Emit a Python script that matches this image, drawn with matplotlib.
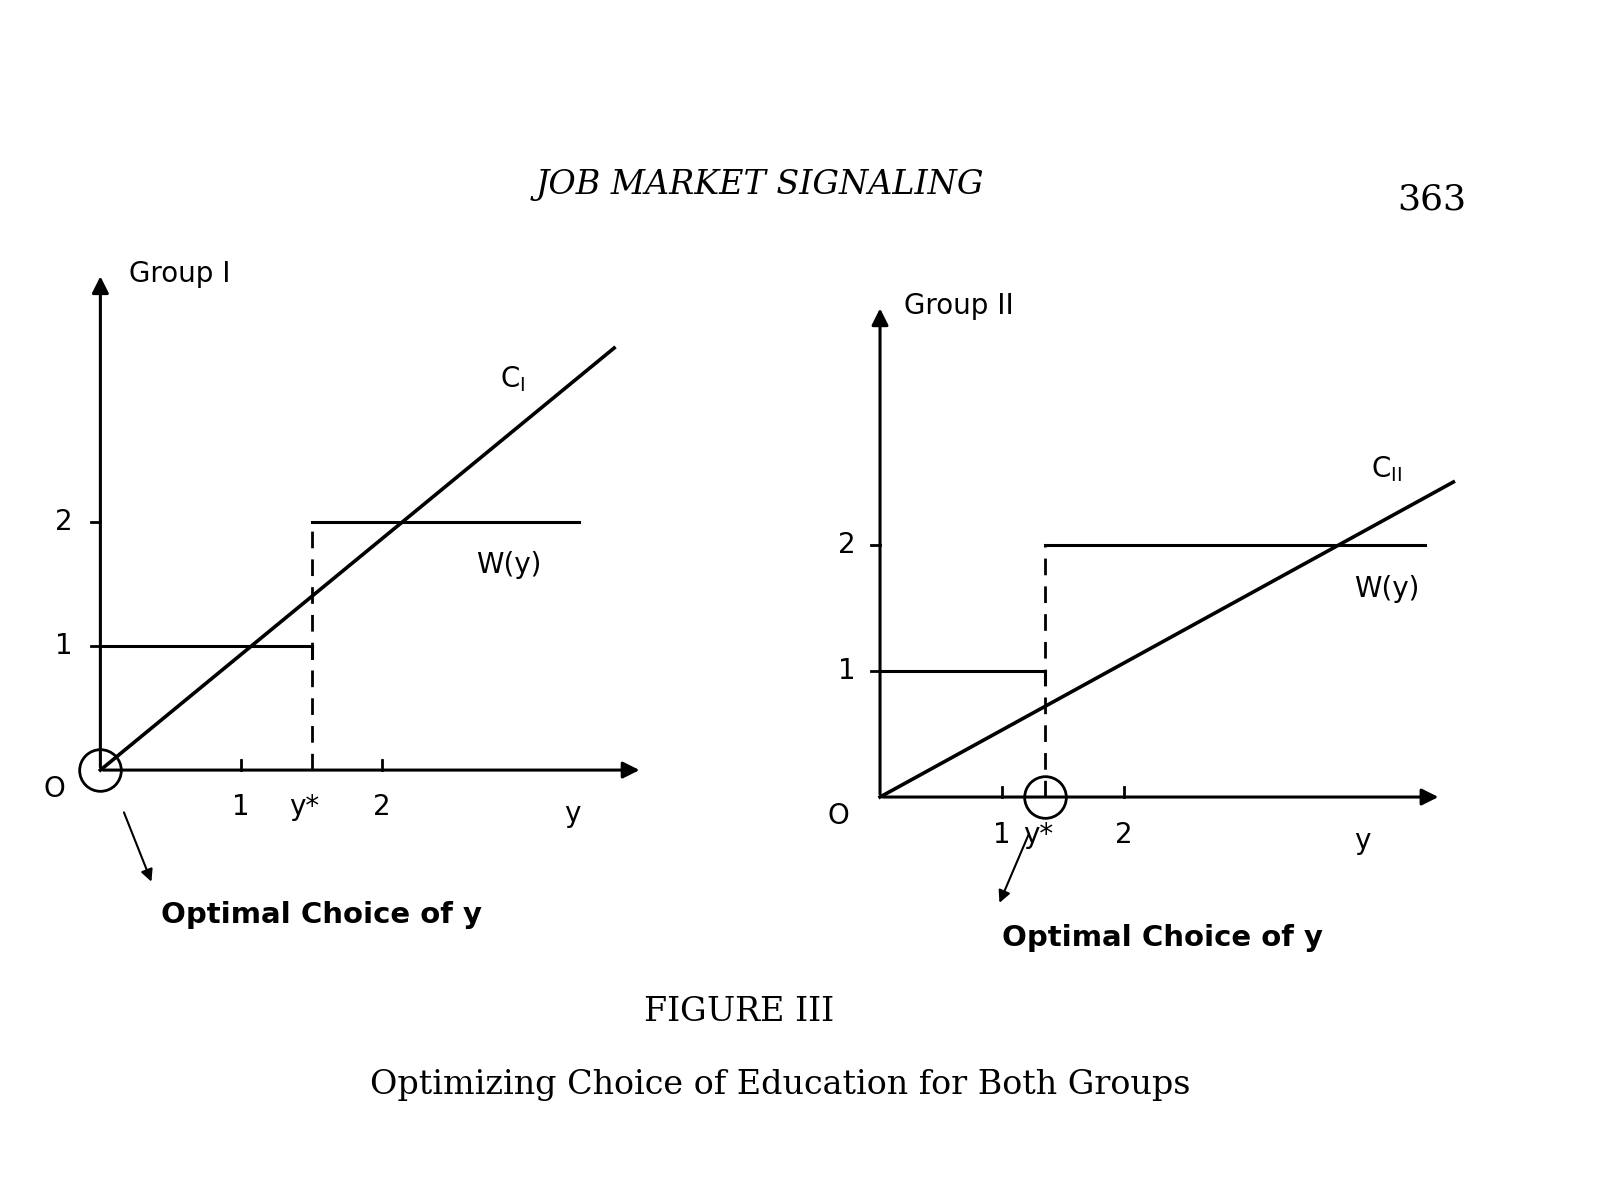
import matplotlib
matplotlib.use('Agg')
import matplotlib.pyplot as plt

plt.rcParams['font.family'] = 'DejaVu Sans'

# Group I
g1_ystar = 1.5
g1_w_low, g1_w_high = 1.0, 2.0
g1_w_end = 3.4
g1_c_end = (3.65, 3.4)
# Group II
g2_ystar = 1.35
g2_w_low, g2_w_high = 1.0, 2.0
g2_w_end = 4.47
g2_c_end = (4.7, 2.5)

tick_vals = [1, 2]

fig = plt.figure(figsize=(16, 12), dpi=100)


def panel(rect, xlim, ylim, ystar, wl, wh, wend, cend, xmax, ymax, title, clabel, clpos, wlpos, arrow, otext_pos, ylpos):
    ax = fig.add_axes(rect)
    ax.set_xlim(*xlim); ax.set_ylim(*ylim); ax.axis('off')
    ax.annotate('', xy=(xmax, 0), xytext=(0, 0),
                arrowprops=dict(arrowstyle='-|>', color='k', lw=2.2, mutation_scale=25))
    ax.annotate('', xy=(0, ymax), xytext=(0, 0),
                arrowprops=dict(arrowstyle='-|>', color='k', lw=2.2, mutation_scale=25))
    ax.plot([0, ystar], [wl, wl], color='k', lw=2.2)
    ax.plot([ystar, ystar], [wl - 0.1, wl], color='k', lw=2.2)
    ax.plot([ystar, ystar], [0, wh], color='k', lw=2, ls=(0, (6, 4)))
    ax.plot([ystar, wend], [wh, wh], color='k', lw=2.2)
    ax.plot([0, cend[0]], [0, cend[1]], color='k', lw=2.6)
    for t in tick_vals:
        ax.plot([t, t], [0, 0.08], color='k', lw=2)
        ax.plot([-0.07, 0], [t, t], color='k', lw=2)
    ax.text(-0.2, 1, '1', fontsize=20, ha='right', va='center')
    ax.text(-0.2, 2, '2', fontsize=20, ha='right', va='center')
    ax.text(-0.25, -0.15, 'O', fontsize=20, ha='right', va='center')
    ax.text(1, -0.3, '1', fontsize=20, ha='center', va='center')
    ax.text(2, -0.3, '2', fontsize=20, ha='center', va='center')
    ax.text(ystar - 0.05, -0.3, 'y*', fontsize=20, ha='center', va='center')
    ax.text(ylpos, -0.35, 'y', fontsize=20, ha='center', va='center')
    ax.text(0.2, ymax, title, fontsize=20, ha='left', va='center')
    ax.text(*clpos, clabel, fontsize=20, ha='center', va='center')
    ax.text(*wlpos, 'W(y)', fontsize=20, ha='center', va='center')
    return ax


ax1 = panel([30 / 1600, 0.2, 670 / 1600, 0.6], (-0.5, 4.26), (-1.53, 4.27),
            g1_ystar, g1_w_low, g1_w_high, g1_w_end, g1_c_end, 3.85, 4.0,
            'Group I', r'C$_{\rm I}$', (2.93, 3.15), (2.9, 1.65), None, None, 3.35)
ax1.plot([0], [0], 'o', ms=30, mfc='none', mec='k', mew=2)
ax1.annotate('', xy=(0.37, -0.92), xytext=(0.16, -0.32),
             arrowprops=dict(arrowstyle='-|>', color='k', lw=1.5, mutation_scale=18))
ax1.text(0.43, -1.17, 'Optimal Choice of y', fontsize=21, ha='left', va='center', fontweight='bold')

ax2 = panel([0.5, 220 / 1200, 760 / 1600, 700 / 1200], (-0.656, 5.574), (-1.452, 4.103),
            g2_ystar, g2_w_low, g2_w_high, g2_w_end, g2_c_end, 4.6, 3.9,
            'Group II', r'C$_{\rm II}$', (4.15, 2.6), (4.15, 1.65), None, None, 3.95)
ax2.plot([g2_ystar], [0], 'o', ms=30, mfc='none', mec='k', mew=2)
ax2.annotate('', xy=(0.97, -0.86), xytext=(1.23, -0.27),
             arrowprops=dict(arrowstyle='-|>', color='k', lw=1.5, mutation_scale=18))
ax2.text(1.0, -1.12, 'Optimal Choice of y', fontsize=21, ha='left', va='center', fontweight='bold')

fig.text(760 / 1600, 1 - 185 / 1200, 'JOB MARKET SIGNALING', fontsize=24, family='DejaVu Serif',
         style='italic', ha='center', va='center')
fig.text(1432 / 1600, 1 - 200 / 1200, '363', fontsize=26, family='DejaVu Serif', ha='center', va='center')
fig.text(738 / 1600, 1 - 1012 / 1200, 'F$\\mathregular{IGURE}$ III', fontsize=24, family='DejaVu Serif',
         ha='center', va='center')
fig.text(780 / 1600, 1 - 1085 / 1200, 'Optimizing Choice of Education for Both Groups', fontsize=24,
         family='DejaVu Serif', ha='center', va='center')

fig.savefig('out.png', dpi=100, facecolor='white')
